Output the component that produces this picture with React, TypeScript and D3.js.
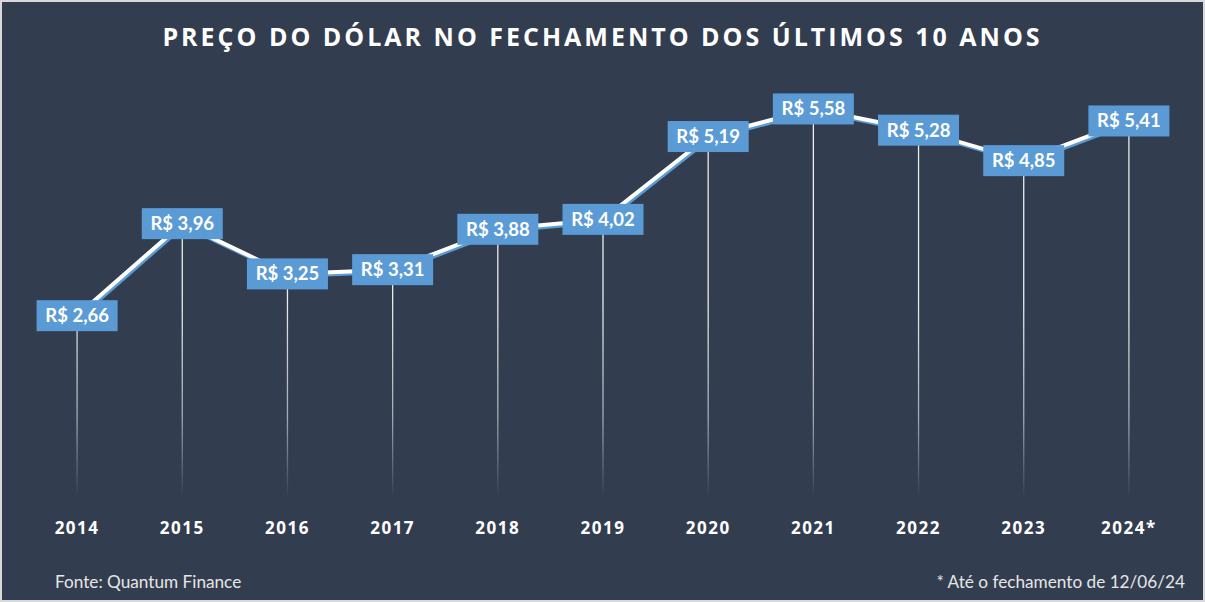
import React from 'react';
import * as d3 from 'd3';

const years = ['2014', '2015', '2016', '2017', '2018', '2019', '2020', '2021', '2022', '2023', '2024*'];
const closingPrices = [2.66, 3.96, 3.25, 3.31, 3.88, 4.02, 5.19, 5.58, 5.28, 4.85, 5.41];

const W = 1205;
const H = 602;

const fmt = (v: number) => 'R$ ' + v.toFixed(2).replace('.', ',');

export default function App() {
  const x = d3.scaleBand<string>().domain(years).range([24.5, 1181.5]);
  const y = d3.scaleLinear().domain([0, 6]).range([504, 79.2]);

  const pts = years.map((yr, i) => ({ yr, v: closingPrices[i], cx: x(yr)! + x.bandwidth() / 2, cy: y(closingPrices[i]) }));

  const line = d3.line<{ cx: number; cy: number }>().x(d => d.cx).y(d => d.cy);
  const path = line(pts) || '';

  const boxW = 81;
  const boxH = 31;

  return (
    <div style={{ position: 'fixed', left: 0, top: 0, width: W, height: H }}>
      <svg width={W} height={H} style={{ display: 'block' }}>
        <defs>
          <linearGradient id="drop" gradientUnits="userSpaceOnUse" x1="0" y1="300" x2="0" y2="498">
            <stop offset="0" stopColor="#ffffff" stopOpacity={0.9} />
            <stop offset="0.6" stopColor="#ffffff" stopOpacity={0.55} />
            <stop offset="1" stopColor="#ffffff" stopOpacity={0} />
          </linearGradient>
        </defs>
        <rect x={0} y={0} width={W} height={H} fill="#d9d9d9" />
        <rect x={2} y={2} width={W - 4} height={H - 4} fill="#333d50" />

        <text
          x={W / 2}
          y={46}
          textAnchor="middle"
          fill="#ffffff"
          fontFamily="'Open Sans', sans-serif"
          fontWeight={700}
          fontSize={25}
          letterSpacing={3}
        >
          PREÇO DO DÓLAR NO FECHAMENTO DOS ÚLTIMOS 10 ANOS
        </text>

        {pts.map(p => (
          <line key={'d' + p.yr} x1={p.cx} x2={p.cx} y1={p.cy} y2={498} stroke="url(#drop)" strokeWidth={1.3} />
        ))}

        <path d={path} transform="translate(1.5,2)" fill="none" stroke="#5b9bd5" strokeWidth={4} strokeLinejoin="round" />
        <path d={path} fill="none" stroke="#ffffff" strokeWidth={4} strokeLinejoin="round" />

        {pts.map(p => (
          <g key={'l' + p.yr} transform={`translate(${p.cx},${p.cy})`}>
            <rect x={-boxW / 2} y={-boxH / 2} width={boxW} height={boxH} fill="#5b9bd5" />
            <text
              x={0}
              y={6.5}
              textAnchor="middle"
              fill="#ffffff"
              fontFamily="Lato, sans-serif"
              fontWeight={700}
              fontSize={18.5}
            >
              {fmt(p.v)}
            </text>
          </g>
        ))}

        {pts.map(p => (
          <text
            key={'x' + p.yr}
            x={p.cx}
            y={534}
            textAnchor="middle"
            fill="#ffffff"
            fontFamily="'Open Sans', sans-serif"
            fontWeight={700}
            fontSize={17}
            letterSpacing={1.5}
          >
            {p.yr}
          </text>
        ))}

        <text x={55} y={588} fill="#e6e6e6" fontFamily="Lato, sans-serif" fontSize={17.2}>
          Fonte: Quantum Finance
        </text>
        <text x={1185} y={588} textAnchor="end" fill="#e6e6e6" fontFamily="Lato, sans-serif" fontSize={17.2}>
          * Até o fechamento de 12/06/24
        </text>
      </svg>
    </div>
  );
}
